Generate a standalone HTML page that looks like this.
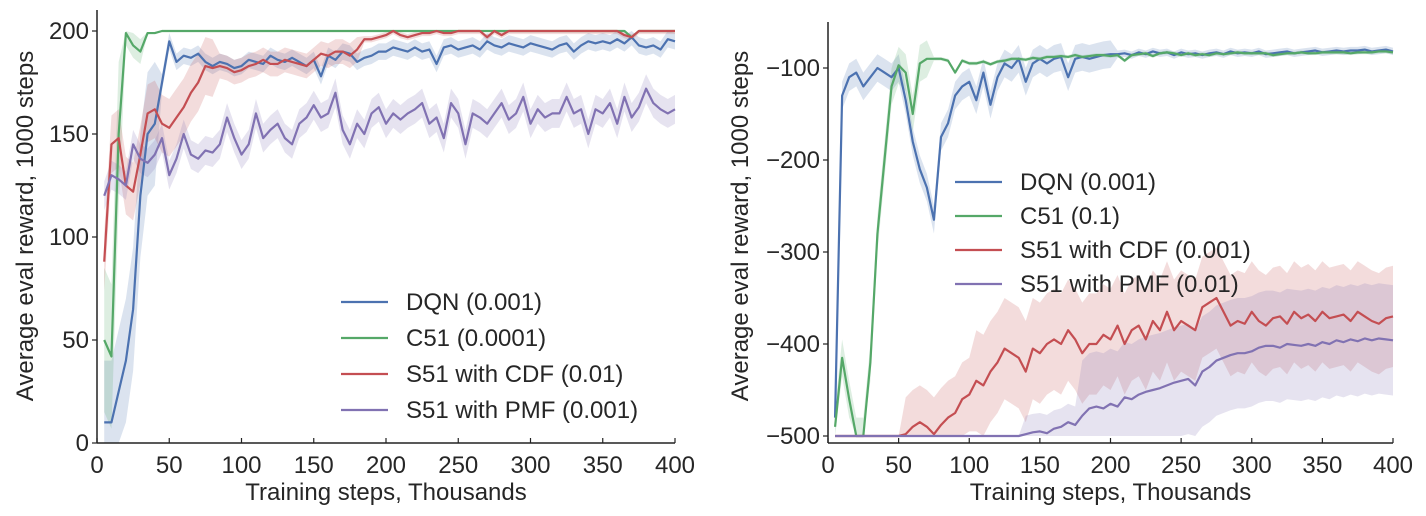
<!DOCTYPE html>
<html><head><meta charset="utf-8"><style>
html,body{margin:0;padding:0;background:#fff;}
svg{display:block;font-family:"Liberation Sans",sans-serif;}
</style></head><body>
<svg id="chart" width="1426" height="516"></svg>
<script>
// ---- data (x in thousands of steps) ----
const xSteps = [];
for (let i = 1; i <= 80; i++) xSteps.push(i * 5);
const leftYTicks = [0, 50, 100, 150, 200];
const rightYTicks = [-100, -200, -300, -400, -500];
const xTicks = [0, 50, 100, 150, 200, 250, 300, 350, 400];

const leftDQN = [10,10,25,40,65,120,150,155,175,195,185,188,187,189,185,183,185,184,182,183,186,185,184,188,186,185,187,185,183,186,178,188,186,190,189,185,187,188,190,190,192,191,190,192,190,191,184,192,193,191,192,193,191,195,193,192,194,193,192,194,193,192,191,193,194,190,193,195,194,195,194,196,194,197,193,192,193,191,196,195];
const leftC51 = [50,42,150,199,193,190,199,199,200,200,200,200,200,200,200,200,200,200,200,200,200,200,200,200,200,200,200,200,200,200,200,200,200,200,200,200,200,200,200,200,200,200,200,200,200,200,200,200,200,200,200,200,200,200,200,200,200,200,200,200,200,200,200,200,200,200,200,200,200,200,200,200,200,197,200,200,200,200,200,200];
const leftCDF = [88,145,148,125,122,140,160,162,155,153,158,163,170,175,183,182,183,182,180,181,183,184,186,184,184,186,185,184,183,186,189,188,190,190,188,191,196,196,197,198,200,198,197,198,199,199,200,199,199,200,200,200,200,197,200,198,200,200,200,200,200,200,200,200,200,200,200,200,200,200,200,200,198,197,200,200,200,200,200,200];
const leftPMF = [120,130,128,125,145,138,136,140,148,130,138,150,140,138,142,141,145,158,148,140,145,160,148,152,155,148,145,155,158,164,158,160,170,152,145,155,150,160,163,155,160,157,160,162,165,155,158,148,165,160,145,160,158,155,160,165,157,160,168,155,162,158,160,160,168,160,162,150,162,160,165,155,168,158,163,172,165,162,160,162];

const rightDQN = [-480,-130,-110,-105,-120,-110,-100,-105,-110,-100,-135,-180,-210,-230,-265,-175,-160,-130,-120,-115,-135,-105,-140,-110,-95,-100,-90,-115,-95,-90,-95,-90,-88,-110,-90,-88,-90,-88,-86,-85,-85,-84,-86,-83,-85,-82,-84,-83,-86,-83,-85,-84,-86,-84,-83,-85,-82,-84,-83,-84,-82,-85,-84,-83,-82,-84,-83,-82,-81,-83,-82,-81,-82,-81,-81,-80,-82,-81,-80,-82];
const rightC51 = [-490,-415,-460,-500,-500,-420,-280,-200,-120,-97,-105,-150,-95,-90,-90,-90,-92,-105,-92,-95,-95,-93,-96,-93,-92,-90,-90,-91,-89,-90,-88,-88,-87,-88,-86,-88,-87,-86,-86,-87,-86,-92,-86,-85,-84,-87,-84,-83,-84,-86,-84,-86,-85,-86,-84,-85,-84,-83,-84,-84,-84,-84,-86,-85,-84,-84,-83,-84,-84,-83,-83,-83,-83,-84,-83,-83,-83,-82,-82,-83];
const rightCDF = [-500,-500,-500,-500,-500,-500,-500,-500,-500,-500,-498,-490,-485,-490,-498,-488,-480,-475,-460,-455,-440,-445,-430,-420,-405,-410,-415,-430,-405,-410,-400,-395,-400,-385,-395,-410,-400,-400,-390,-395,-380,-400,-385,-380,-395,-375,-385,-365,-385,-375,-380,-385,-360,-355,-350,-365,-380,-375,-378,-365,-375,-380,-372,-370,-378,-365,-372,-368,-375,-365,-372,-370,-368,-375,-365,-370,-375,-378,-372,-370];
const rightPMF = [-500,-500,-500,-500,-500,-500,-500,-500,-500,-500,-500,-500,-500,-500,-500,-500,-500,-500,-500,-500,-500,-500,-500,-500,-500,-500,-500,-498,-496,-495,-497,-492,-490,-485,-488,-478,-470,-468,-470,-465,-468,-458,-460,-455,-452,-450,-448,-445,-442,-440,-438,-445,-430,-425,-418,-415,-412,-410,-410,-408,-404,-402,-402,-404,-400,-401,-402,-400,-402,-398,-400,-396,-398,-395,-397,-394,-396,-394,-395,-396];

const C = {blue:"#4c72b0", green:"#55a868", red:"#c44e52", purple:"#8172b2"};
const NS = "http://www.w3.org/2000/svg";
const svg = document.getElementById("chart");
const FS = 24;
function mk(tag, attrs, parent) {
  const e = document.createElementNS(NS, tag);
  for (const k in attrs) e.setAttribute(k, attrs[k]);
  (parent || svg).appendChild(e);
  return e;
}

function panel(cfg) {
  const g = mk("g", {});
  
  
  const sx = v => cfg.x0 + (v - 0) / 400 * (cfg.x1 - cfg.x0);
  const sy = v => cfg.yA + (v - cfg.vA) / (cfg.vB - cfg.vA) * (cfg.yB - cfg.yA);
  cfg.series.forEach(s => {
    let up = [], dn = [];
    s.data.forEach((v, i) => {
      const w = s.band(i, v);
      let hi = Math.min(v + w, cfg.maxV), lo = Math.max(v - w, cfg.minV);
      up.push(sx(xSteps[i]) + "," + sy(hi));
      dn.unshift(sx(xSteps[i]) + "," + sy(lo));
    });
    const p = mk("polygon", {points: up.concat(dn).join(" "), fill: s.color, "fill-opacity": 0.2, stroke: "none"}, g);
    
    
  });
  cfg.series.forEach(s => {
    const pts = s.data.map((v, i) => sx(xSteps[i]) + "," + sy(v)).join(" ");
    const l = mk("polyline", {points: pts, fill: "none", stroke: s.color, "stroke-width": 2.2, "stroke-linejoin": "round"}, g);
    
    
  });
  const ya = mk("line", {x1: cfg.x0, y1: cfg.top, x2: cfg.x0, y2: cfg.axisY, stroke: "#222", "stroke-width": 1.5}, g);
  
  
  const xa = mk("line", {x1: cfg.x0, y1: cfg.axisY, x2: cfg.x1, y2: cfg.axisY, stroke: "#222", "stroke-width": 1.5}, g);
  
  
  xTicks.forEach(t => {
    mk("line", {x1: sx(t), y1: cfg.axisY, x2: sx(t), y2: cfg.axisY - 5, stroke: "#222", "stroke-width": 1.2}, g);
    const tx = mk("text", {x: sx(t), y: cfg.axisY + 30, "text-anchor": "middle", "font-size": FS, fill: "#262626"}, g);
    tx.textContent = t;
    
    
  });
  cfg.yTicks.forEach(t => {
    mk("line", {x1: cfg.x0, y1: sy(t), x2: cfg.x0 - 5, y2: sy(t), stroke: "#222", "stroke-width": 1.2}, g);
    const tx = mk("text", {x: cfg.x0 - 8, y: sy(t) + 8, "text-anchor": "end", "font-size": FS, fill: "#262626"}, g);
    tx.textContent = t < 0 ? "\u2212" + (-t) : t;
    
    
  });
  const xt = mk("text", {x: (cfg.x0 + cfg.x1) / 2, y: 500, "text-anchor": "middle", "font-size": FS, fill: "#262626"}, g);
  xt.textContent = "Training steps, Thousands";
  
  
  const yt = mk("text", {x: 0, y: 0, transform: "translate(" + cfg.ytX + ",226) rotate(-90)", "text-anchor": "middle", "font-size": FS, fill: "#262626"}, g);
  yt.textContent = "Average eval reward, 1000 steps";
  
  
  cfg.series.forEach((s, i) => {
    const y = cfg.legY + i * cfg.legDy;
    const lg = mk("g", {}, g);
    
    
    mk("line", {x1: cfg.legX, y1: y, x2: cfg.legX + 47, y2: y, stroke: s.color, "stroke-width": 2.2}, lg);
    const t = mk("text", {x: cfg.legX + 65, y: y + 8, "font-size": FS, fill: "#262626"}, lg);
    t.textContent = s.label;
  });
}

panel({
  name: "left-chart", x0: 97, x1: 675, axisY: 443, top: 10,
  vA: 0, yA: 443, vB: 200, yB: 31, minV: 0, maxV: 200, yTicks: leftYTicks, ytX: 33,
  legX: 341, legY: 302, legDy: 36,
  series: [
    {key: "dqn", label: "DQN (0.001)", color: C.blue, data: leftDQN, band: (i) => i < 8 ? 30 : 4},
    {key: "c51", label: "C51 (0.0001)", color: C.green, data: leftC51, band: (i) => i < 3 ? 35 : (i < 6 ? 6 : 0.5)},
    {key: "s51-cdf", label: "S51 with CDF (0.01)", color: C.red, data: leftCDF, band: (i) => i < 16 ? 14 : (i < 36 ? 6 : 1.5)},
    {key: "s51-pmf", label: "S51 with PMF (0.001)", color: C.purple, data: leftPMF, band: (i) => 7}
  ]
});
panel({
  name: "right-chart", x0: 828, x1: 1393, axisY: 443, top: 22,
  vA: -100, yA: 68, vB: -500, yB: 436, minV: -500, maxV: -70, yTicks: rightYTicks, ytX: 748,
  legX: 955, legY: 182, legDy: 34,
  series: [
    {key: "dqn", label: "DQN (0.001)", color: C.blue, data: rightDQN, band: (i) => i < 40 ? 15 : 4},
    {key: "c51", label: "C51 (0.1)", color: C.green, data: rightC51, band: (i) => i < 14 ? 20 : 2},
    {key: "s51-cdf", label: "S51 with CDF (0.001)", color: C.red, data: rightCDF, band: (i) => i < 10 ? 0 : (i < 20 ? 40 : 55)},
    {key: "s51-pmf", label: "S51 with PMF (0.01)", color: C.purple, data: rightPMF, band: (i) => i < 27 ? 0 : (i < 35 ? 20 : 60)}
  ]
});
</script>
</body></html>
